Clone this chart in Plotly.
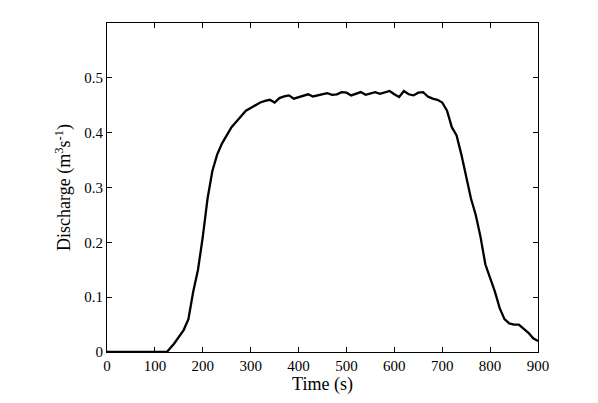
import plotly.graph_objects as go

time_s = [0,125,140,160,170,180,190,200,210,220,230,240,250,260,270,280,290,300,310,320,330,340,350,360,370,380,390,400,410,420,430,440,450,460,470,480,490,500,510,520,530,540,550,560,570,580,590,600,610,620,630,640,650,660,670,680,690,700,710,720,730,740,750,760,770,780,790,800,810,820,830,840,850,860,870,880,890,900]
discharge = [0,0,0.015,0.04,0.06,0.11,0.15,0.21,0.28,0.33,0.36,0.38,0.395,0.41,0.42,0.43,0.44,0.445,0.45,0.455,0.458,0.46,0.455,0.463,0.466,0.468,0.462,0.465,0.468,0.47,0.466,0.468,0.47,0.472,0.469,0.47,0.474,0.473,0.468,0.471,0.474,0.469,0.472,0.474,0.471,0.473,0.476,0.47,0.465,0.476,0.47,0.468,0.473,0.474,0.466,0.462,0.46,0.455,0.44,0.41,0.395,0.36,0.32,0.28,0.25,0.21,0.16,0.135,0.11,0.08,0.06,0.052,0.05,0.05,0.042,0.035,0.025,0.02]

fig = go.Figure(go.Scatter(x=time_s, y=discharge, mode="lines",
                           line=dict(color="black", width=2.3)))
ax = dict(showline=True, linecolor="black", linewidth=1, mirror="ticks", ticks="inside",
          ticklen=5, tickcolor="black", showgrid=False, zeroline=False)
fig.update_layout(
    width=598, height=403, plot_bgcolor="white", paper_bgcolor="white",
    margin=dict(l=99, r=68, t=15, b=59), showlegend=False,
    font=dict(family="Liberation Serif", size=15, color="black"),
    xaxis=dict(range=[0, 900], dtick=100, title=dict(text="Time (s)", standoff=2), **ax),
    yaxis=dict(range=[0, 0.6], tickvals=[0,0.1,0.2,0.3,0.4,0.5],
               ticktext=["0","0.1","0.2","0.3","0.4","0.5"],
               title=dict(text="Discharge (m<sup>3</sup>s<sup>-1</sup>)", standoff=8), **ax),
)
fig.write_html("out.html")
